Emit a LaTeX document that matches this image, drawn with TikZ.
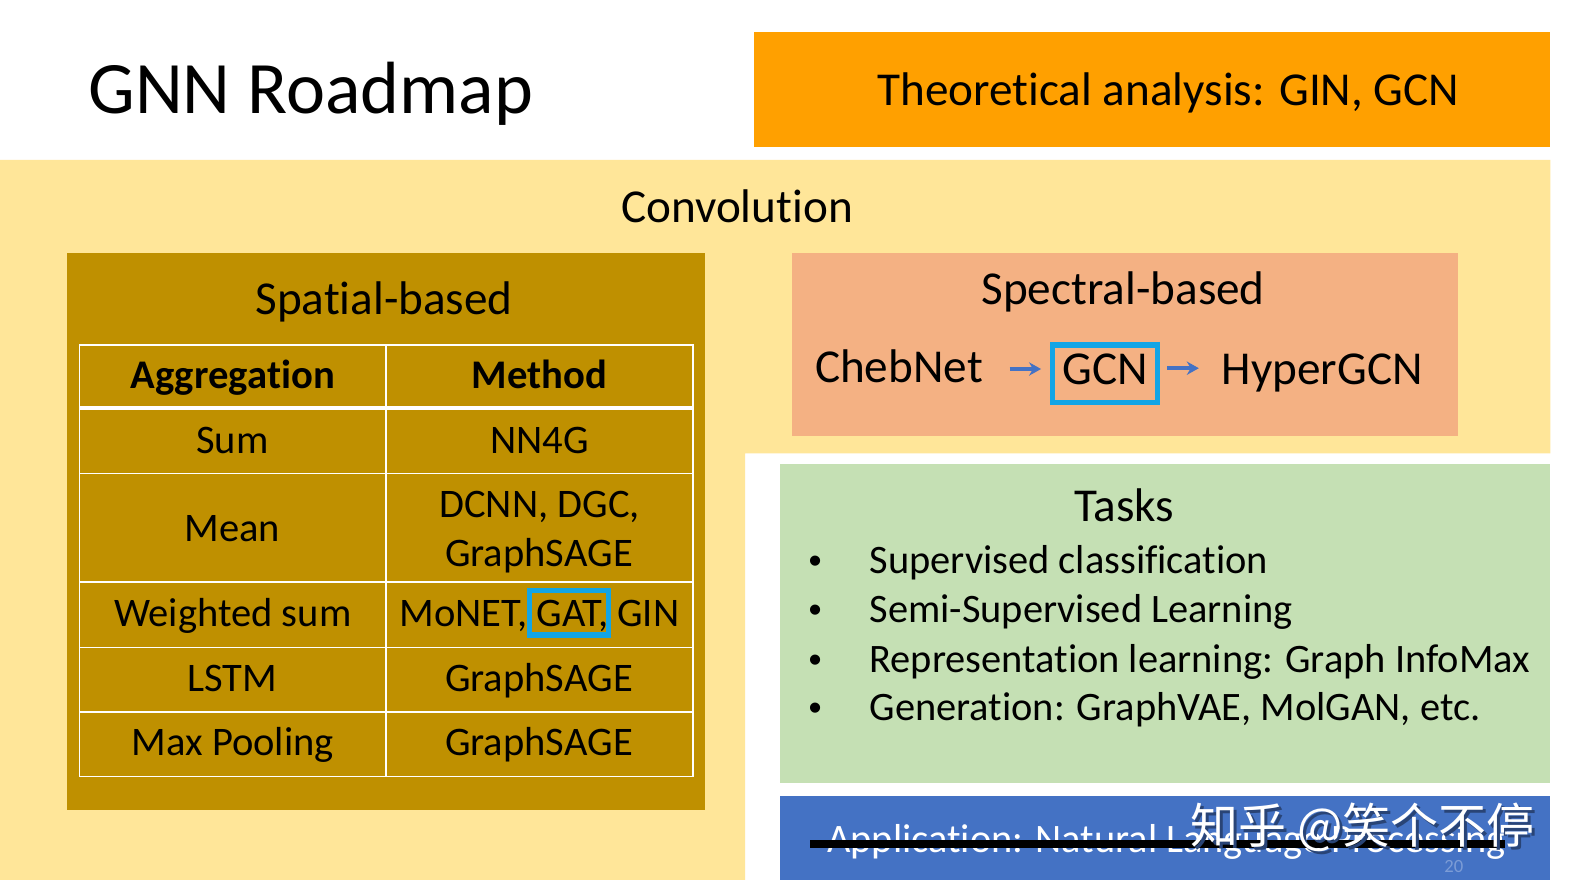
\documentclass[tikz,border=0pt]{standalone}
\usepackage{fontspec}
\setmainfont[Ligatures=NoCommon]{Carlito}
\newfontfamily\cjkfont{Noto Sans CJK SC}
\newfontfamily\bulfont{Liberation Sans}
\definecolor{yel}{HTML}{FFE699}
\definecolor{spat}{HTML}{BF9000}
\definecolor{orng}{HTML}{FFA000}
\definecolor{spec}{HTML}{F4B183}
\definecolor{grn}{HTML}{C5E0B4}
\definecolor{blu}{HTML}{4472C4}
\definecolor{cyn}{HTML}{12A5E6}
\newcommand{\fs}[1]{\fontsize{#1}{#1}\selectfont}
\usetikzlibrary{arrows.meta}
\tikzset{
  x=0.754125pt,y=-0.754125pt,
  txt/.style={inner sep=0pt,anchor=base,text=black},
  body/.style={txt,font=\fs{35.4}},
  cell/.style={txt,font=\fs{30.4}},
  head/.style={txt,font=\fs{30.5}\bfseries},
  item/.style={txt,anchor=base west,font=\fs{30.3}},
  bul/.style={txt,anchor=base west,font=\bulfont\fs{28}},
  grid/.style={draw=white,line width=1.1pt},
  hl/.style={draw=cyn,line width=4pt},
  arr/.style={draw=blu,line width=2.8pt,-{Stealth[length=9pt,width=10pt]}},
}
\begin{document}
\begin{tikzpicture}
\useasboundingbox (0,0) rectangle (1567.4,888.1);
\fill[white] (0,0) rectangle (1567.4,888.1);
\fill[yel] (0,159) -- (1542,159) -- (1542,451) -- (741,451) -- (741,875) -- (0,875) -- cycle;
\fill[orng] (750,32) rectangle (1542,146);
\fill[spat] (67,252) rectangle (701,805.5);
\fill[spec] (788,252) rectangle (1450.5,433.5);
\fill[grn] (776,461) rectangle (1542,778.5);
\fill[blu] (776,792) rectangle (1542,875);

\node[txt,font=\fs{55.5}] (title) at (309,113) {GNN Roadmap};
\node[body] (theory) at (1162,105) {Theoretical analysis: GIN, GCN};
\node[body] (conv) at (733,221.5) {Convolution};
\node[body] (spatial) at (382,313) {Spatial-based};
\node[body] (spectral) at (1117,303) {Spectral-based};

% table
\draw[grid] (79,343) rectangle (689,772);
\draw[grid] (384,343) -- (384,772);
\draw[grid,line width=3.2pt] (79,406) -- (689,406);
\foreach \yy in {471,579,644,708} \draw[grid] (79,\yy) -- (689,\yy);

\node[head] (h1) at (231.5,386) {Aggregation};
\node[head] (h2) at (536.5,386) {Method};
\node[cell] (a1) at (231,451) {Sum};
\node[cell] (m1) at (536.5,451) {NN4G};
\node[cell] (a2) at (231,539) {Mean};
\node[cell] (m2a) at (536.5,515) {DCNN, DGC,};
\node[cell] (m2b) at (536,563) {GraphSAGE};
\node[cell] (a3) at (231.5,623) {Weighted sum};
\node[cell] (m3) at (536.5,623) {MoNET, GAT, GIN};
\node[cell] (a4) at (231,688) {LSTM};
\node[cell] (m4) at (536,688) {GraphSAGE};
\node[cell] (a5) at (231.5,751.5) {Max Pooling};
\node[cell] (m5) at (536,751.5) {GraphSAGE};
\draw[hl] (526.5,587.5) rectangle (605.5,631.5);

% spectral row
\node[body] (cheb) at (894,380.5) {ChebNet};
\node[body] (gcn) at (1099,382) {GCN};
\node[body] (hyper) at (1315,382) {HyperGCN};
\node[hl,inner sep=0pt,minimum width=79pt,minimum height=43pt] (gcnbox) at (1099,371.5) {};
\draw[arr,transform canvas={yshift=3.4pt},shorten >=6.5pt,shorten <=20pt] (cheb.east |- gcnbox) -- (gcnbox.west);
\draw[arr,transform canvas={yshift=4pt},shorten >=17pt,shorten <=5pt] (gcnbox.east) -- (hyper.west |- gcnbox);

% tasks
\node[body] (tasks) at (1118,519) {Tasks};
\foreach \nm/\yy/\tx in {
  t1/570/Supervised classification,
  t2/619/Semi-Supervised Learning,
  t3/668.5/{Representation learning: Graph InfoMax},
  t4/716.5/{Generation: GraphVAE, MolGAN, etc.}}{
  \node[item] (\nm) at (864.5,\yy) {\tx};
  \node[bul] (b\nm) at (804,\yy) {•};
}

% application
\node[txt,text=white,font=\fs{30.3}] (app) at (1160,848) {Application: Natural Language Processing};
\fill[black] (806,835.5) rectangle (1497,843.5);
\node[txt,text=white!30!blu,font=\fs{14}] (pg) at (1446,868) {20};
\node[txt,text=blu!60!black,font=\cjkfont\fs{36}] (wms) at (1358,842) {知乎 @笑个不停};
\node[txt,text=white,font=\cjkfont\fs{36}] (wm) at (1355,839) {知乎 @笑个不停};
\end{tikzpicture}
\end{document}
